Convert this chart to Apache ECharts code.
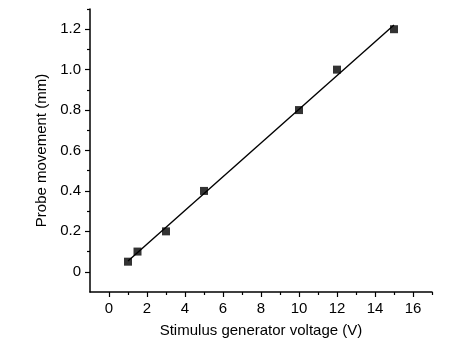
<!DOCTYPE html>
<html>
<head>
<meta charset="utf-8">
<script src="https://cdn.jsdelivr.net/npm/echarts@6/dist/echarts.min.js"></script>
<style>
  html, body { margin: 0; padding: 0; background: #fff; }
  #chart { width: 474px; height: 353px; }
</style>
</head>
<body>
<div id="chart"></div>
<script>
// measured points
var voltage = [1, 1.5, 3, 5, 10, 12, 15];
var movement = [0.05, 0.1, 0.2, 0.4, 0.8, 1.0, 1.2];
// linear fit line ends
var fitX = [1, 15];
var fitY = [0.053, 1.221];
// ticks
var xMajorTicks = [0, 2, 4, 6, 8, 10, 12, 14, 16];
var xMinorTicks = [1, 3, 5, 7, 9, 11, 13, 15, 17];
var yMajorTicks = [0, 0.2, 0.4, 0.6, 0.8, 1.0, 1.2];
var yMinorTicks = [0.1, 0.3, 0.5, 0.7, 0.9, 1.1, 1.3];

var font = "Liberation Sans";
var chart = echarts.init(document.getElementById("chart"));

var pts = voltage.map(function (v, i) { return [v, movement[i]]; });
var fit = fitX.map(function (v, i) { return [v, fitY[i]]; });

// extra axis that only draws a set of ticks
function tickAxis(min, max, pos, values, len) {
    return {
        type: "value", min: min, max: max, position: pos,
        splitLine: {show: false},
        axisLine: {show: false, onZero: false},
        axisTick: {show: true, customValues: values, length: len, lineStyle: {color: "#000", width: 1.2}},
        axisLabel: {show: false}
    };
}

var option = {
    animation: false,
    grid: {left: 90, top: 9, right: 42, bottom: 61},
    xAxis: [{
        type: "value", min: -1, max: 17,
        splitLine: {show: false},
        axisLine: {onZero: false, lineStyle: {color: "#000", width: 1.5}},
        axisTick: {show: false},
        axisLabel: {customValues: xMajorTicks, color: "#000", fontSize: 15, fontFamily: font, margin: 9},
        name: "Stimulus generator voltage (V)",
        nameLocation: "middle", nameGap: 31,
        nameTextStyle: {color: "#000", fontSize: 15, fontFamily: font}
    },
        tickAxis(-1, 17, "bottom", xMajorTicks, 5),
        tickAxis(-1, 17, "bottom", xMinorTicks, 3)
    ],
    yAxis: [{
        type: "value", min: -0.1, max: 1.3,
        splitLine: {show: false},
        axisLine: {onZero: false, lineStyle: {color: "#000", width: 1.5}},
        axisTick: {show: false},
        axisLabel: {
            customValues: yMajorTicks, color: "#000", fontSize: 15, fontFamily: font, margin: 9,
            formatter: function (v) { return v === 0 ? "0" : v.toFixed(1); }
        },
        name: "Probe movement (mm)",
        nameLocation: "middle", nameGap: 38,
        nameTextStyle: {color: "#000", fontSize: 15, fontFamily: font}
    },
        tickAxis(-0.1, 1.3, "left", yMajorTicks, 5),
        tickAxis(-0.1, 1.3, "left", yMinorTicks, 3)
    ],
    series: [{
        type: "line",
        data: fit,
        showSymbol: false,
        lineStyle: {color: "#000", width: 1.4}
    }, {
        type: "scatter",
        data: pts,
        symbol: "rect",
        symbolSize: 8,
        itemStyle: {color: "#000"}
    }]
};
chart.setOption(option);
</script>
</body>
</html>
